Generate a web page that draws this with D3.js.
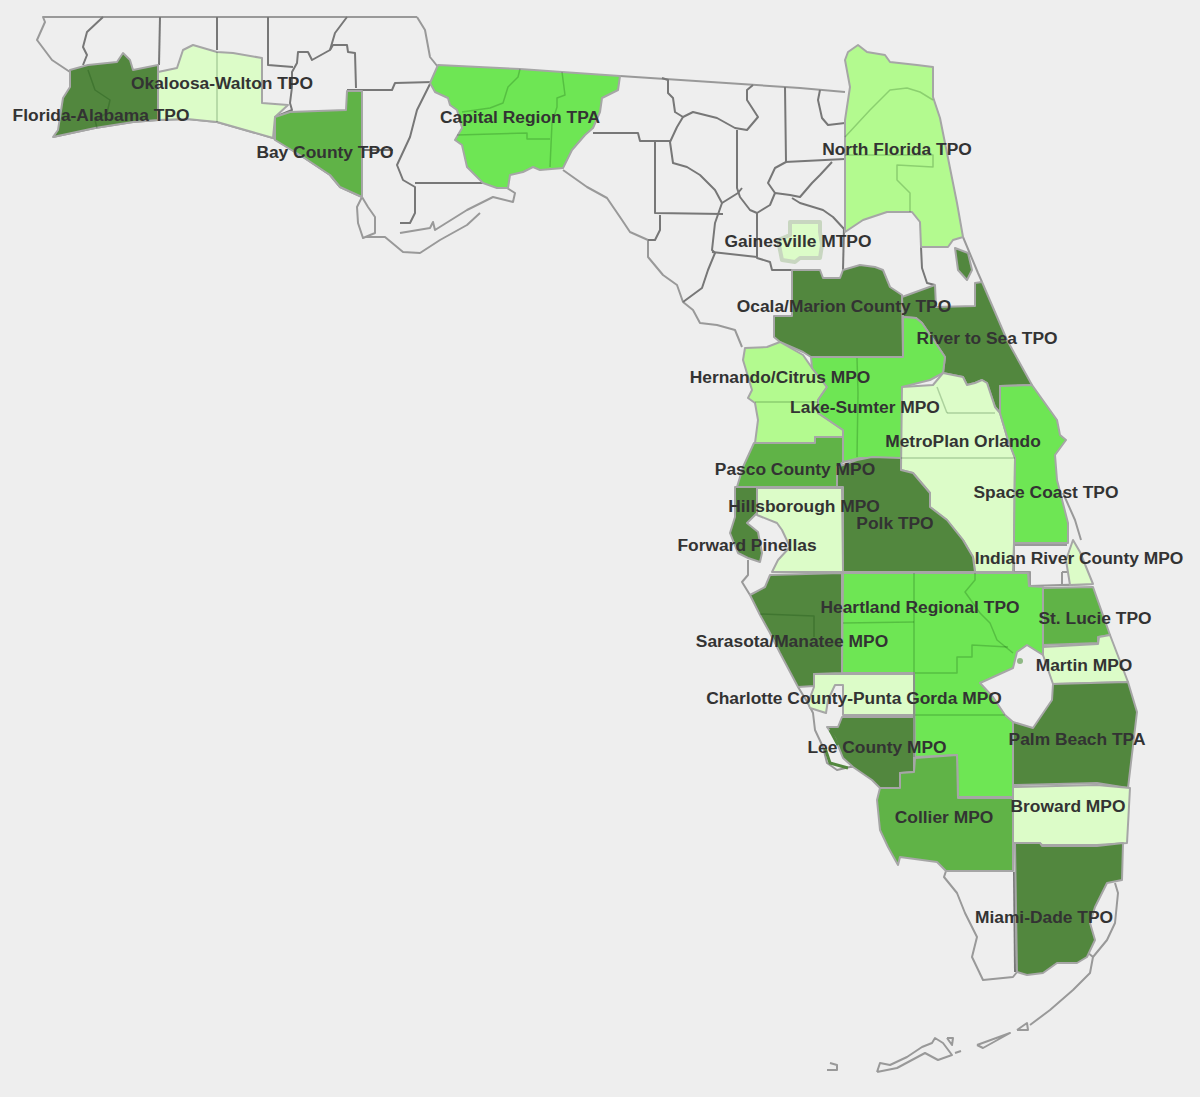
<!DOCTYPE html>
<html>
<head>
<meta charset="utf-8">
<script src="https://cdn.jsdelivr.net/npm/d3@7"></script>
<style>
  html, body { margin: 0; padding: 0; background: #eeeeee; }
  svg { display: block; }
</style>
</head>
<body>
<div id="map"></div>
<script>
// Planning organisations, one outline each, in map units
const regionNames = [
  'Florida-Alabama TPO', 'Okaloosa-Walton TPO', 'Bay County TPO', 'Capital Region TPA',
  'North Florida TPO', 'Gainesville MTPO', 'Ocala/Marion County TPO', 'River to Sea TPO',
  'St. Augustine', 'Hernando/Citrus MPO', 'Lake-Sumter MPO', 'MetroPlan Orlando',
  'Space Coast TPO', 'Indian River County MPO', 'Polk TPO', 'Pasco County MPO',
  'Hillsborough MPO', 'Forward Pinellas', 'Sarasota/Manatee MPO', 'Heartland Regional TPO',
  'St. Lucie TPO', 'Martin MPO', 'Palm Beach TPA', 'Charlotte County-Punta Gorda MPO',
  'Lee County MPO', 'Collier MPO', 'Broward MPO', 'Miami-Dade TPO'
];
// 0 palest .. 4 darkest
const regionTiers = [4, 0, 3, 2, 1, 0, 4, 4, 4, 1, 2, 0, 2, 0, 4, 3, 0, 4, 4, 2, 3, 0, 4, 0, 4, 3, 0, 4];
const tierColors = ['#dcfcc8', '#b3fa8f', '#6ee654', '#60b347', '#52873e'];

const regionOutlines = [
  [[70,70],[88,65],[117,62],[123,53],[130,60],[133,70],[158,65],[158,120],[133,122],[95,128],[53,137],[58,130],[63,98],[70,87]],
  [[158,72],[177,68],[183,50],[193,45],[217,52],[233,53],[262,58],[262,103],[288,105],[275,117],[273,138],[217,122],[187,119],[158,120]],
  [[275,117],[290,112],[346,110],[347,91],[362,91],[362,197],[340,187],[330,175],[303,157],[275,140]],
  [[438,65],[520,69],[562,72],[620,76],[618,90],[602,98],[600,112],[593,128],[585,135],[572,150],[563,168],[540,170],[533,167],[523,172],[510,175],[508,188],[497,188],[483,183],[467,167],[462,145],[455,140],[462,128],[457,110],[450,105],[448,98],[435,92],[430,83]],
  [[845,60],[848,52],[858,45],[867,52],[885,55],[890,62],[917,65],[933,67],[933,97],[940,118],[947,153],[957,203],[963,237],[953,240],[948,247],[921,247],[920,222],[912,212],[887,212],[863,220],[845,232],[845,120],[850,87]],
  [[790,222],[820,222],[820,232],[822,245],[820,258],[800,258],[795,262],[782,260],[778,240],[790,235]],
  [[792,270],[820,270],[823,278],[840,278],[843,270],[860,265],[875,267],[883,270],[890,287],[902,295],[903,357],[811,357],[803,352],[780,342],[774,337],[774,316],[792,316]],
  [[902,297],[935,285],[936,307],[975,306],[975,283],[982,282],[1007,340],[1032,385],[1000,386],[1000,413],[995,407],[987,383],[982,380],[975,383],[967,385],[963,377],[943,373],[945,357],[937,345],[922,323],[916,318],[903,317]],
  [[955,248],[968,253],[972,270],[967,280],[958,270]],
  [[745,348],[767,347],[780,342],[803,355],[812,368],[827,387],[818,400],[818,413],[843,430],[843,437],[815,437],[815,443],[755,443],[758,420],[755,403],[748,398],[752,390],[743,360]],
  [[903,317],[916,318],[922,323],[937,345],[945,357],[943,373],[930,380],[902,387],[902,458],[860,458],[843,462],[843,430],[818,413],[818,400],[827,387],[812,368],[811,357],[903,357]],
  [[902,387],[933,385],[943,373],[963,377],[967,385],[975,383],[982,380],[987,383],[995,407],[1000,413],[1008,440],[1015,458],[1014,543],[1013,572],[975,572],[973,557],[963,540],[947,520],[930,507],[930,493],[913,473],[901,470]],
  [[1000,386],[1032,385],[1057,420],[1060,435],[1066,440],[1055,455],[1057,480],[1068,523],[1068,543],[1014,543],[1015,458],[1008,440],[1000,413]],
  [[1073,540],[1080,552],[1093,584],[1070,585],[1066,560]],
  [[837,487],[837,467],[857,460],[872,457],[901,458],[901,470],[913,473],[930,493],[930,507],[947,520],[963,540],[973,557],[975,572],[843,572],[843,487]],
  [[815,437],[843,437],[843,462],[837,467],[837,487],[737,487],[743,467],[754,443],[815,443]],
  [[757,488],[842,488],[843,572],[772,572],[778,560],[790,547],[782,530],[777,523],[757,515]],
  [[735,487],[757,487],[757,513],[747,523],[758,532],[762,553],[760,562],[748,558],[738,553],[730,533],[735,517]],
  [[770,575],[842,573],[842,673],[814,674],[814,686],[798,687],[780,653],[770,633],[760,615],[750,595],[765,587]],
  [[843,573],[1028,573],[1029,586],[1043,587],[1043,655],[1027,645],[1017,652],[1013,668],[980,683],[993,697],[1005,715],[1013,722],[1013,797],[958,797],[957,755],[915,757],[914,673],[842,673]],
  [[1043,588],[1093,587],[1110,635],[1098,637],[1098,643],[1043,645]],
  [[1043,647],[1098,644],[1099,637],[1110,635],[1128,682],[1053,684],[1043,655]],
  [[1053,684],[1128,682],[1137,712],[1128,788],[1097,783],[1013,785],[1013,722],[1033,728],[1052,700]],
  [[814,674],[914,674],[914,715],[843,715],[843,685],[835,685],[828,700],[826,713],[810,708],[808,703],[814,687]],
  [[842,717],[914,717],[914,772],[900,773],[900,788],[880,788],[872,780],[853,767],[843,758],[835,738],[827,727],[838,727]],
  [[914,772],[915,758],[957,755],[958,798],[1013,798],[1013,871],[946,871],[937,862],[900,857],[898,865],[888,847],[880,830],[877,800],[880,788],[900,788],[900,773]],
  [[1013,787],[1097,785],[1130,788],[1127,843],[1097,845],[1042,845],[1040,843],[1013,843]],
  [[1015,843],[1040,843],[1042,846],[1097,846],[1123,843],[1122,880],[1107,883],[1095,907],[1090,923],[1095,940],[1087,957],[1077,963],[1057,963],[1043,973],[1027,975],[1017,972]]
];

// county lines inside the coloured regions
const innerLines = [
  [[88,70],[95,90],[110,100],[107,113],[95,120],[97,128]],
  [[217,52],[217,122]],
  [[520,69],[518,77],[508,87],[503,103],[490,108],[462,112]],
  [[562,72],[565,95],[557,98],[557,107],[552,123],[550,167]],
  [[457,135],[527,133],[527,139],[550,139]],
  [[845,137],[870,110],[890,90],[907,88],[920,92],[933,100]],
  [[845,155],[897,155],[933,155],[933,167],[897,165],[897,180],[910,193],[910,212]],
  [[755,402],[818,402]],
  [[857,358],[858,393],[857,457]],
  [[947,413],[995,413]],
  [[937,387],[947,413]],
  [[901,458],[1015,458]],
  [[760,614],[814,616],[814,637]],
  [[843,623],[914,622]],
  [[914,573],[914,757]],
  [[975,573],[975,580],[965,592],[980,613],[990,623],[997,640],[1013,653]],
  [[915,673],[957,673],[957,657],[972,657],[972,645],[1008,647]],
  [[915,715],[1005,715]]
];

// counties that belong to no region
const countyLines = [
  [[103,17],[87,32],[83,47],[87,55],[83,65]],
  [[160,17],[159,65]],
  [[217,17],[217,50]],
  [[268,17],[268,65],[293,67]],
  [[347,17],[335,33],[330,50],[312,60],[308,52],[298,52],[297,63],[292,72],[292,87],[290,103],[292,110],[275,117]],
  [[330,50],[333,45],[347,45],[348,52],[355,53],[356,88]],
  [[347,90],[392,90],[395,83],[433,82]],
  [[430,84],[417,110],[410,137],[397,165],[403,180],[415,187],[415,213],[410,223],[400,223]],
  [[415,183],[483,183]],
  [[362,150],[393,150]],
  [[662,78],[668,80],[668,93],[673,98],[675,112],[683,117],[693,112],[717,118],[735,128],[747,130],[758,117],[747,100],[747,90],[753,85]],
  [[683,117],[677,127],[670,142],[673,163],[687,167],[700,175],[715,190],[722,203],[738,193],[742,188]],
  [[593,133],[638,133],[640,141],[670,141]],
  [[655,141],[655,213],[723,214]],
  [[660,215],[660,230],[655,240],[648,240]],
  [[737,130],[737,188],[740,197],[750,210],[757,213],[770,205],[775,193],[790,195],[800,197],[812,183],[820,175],[832,162]],
  [[722,203],[715,223],[712,250],[715,253],[708,270],[702,288],[683,302]],
  [[712,252],[757,257]],
  [[757,213],[757,258],[770,262],[772,270],[792,270]],
  [[785,87],[786,162],[775,168],[768,183],[775,193]],
  [[785,162],[845,159]],
  [[820,90],[818,100],[822,118],[828,125],[845,123]],
  [[792,198],[800,203],[823,210],[833,217],[845,230]],
  [[844,227],[843,270]],
  [[921,247],[922,268],[927,283],[935,285]],
  [[1014,872],[1015,972]]
];

// coast and state line, drawn lighter than the county lines
const coastLines = [
  [[417,17],[43,17],[45,22],[37,40],[52,60],[70,72]],
  [[417,17],[425,30],[430,57],[438,67]],
  [[620,76],[800,88],[845,92]],
  [[53,137],[95,128],[133,122],[158,120],[187,119],[217,122],[273,138],[303,157],[330,175],[340,187],[362,197],[368,207],[375,217],[375,233],[363,238],[358,223],[357,207],[362,197]],
  [[365,237],[385,237],[403,252],[420,253],[440,240],[467,225],[480,213]],
  [[400,233],[430,228],[433,222],[435,230],[467,210],[493,197],[513,202],[515,193],[507,188]],
  [[563,170],[587,187],[607,198],[622,220],[630,232],[648,240],[648,257],[663,275],[677,285],[683,302],[693,310],[700,323],[717,325],[735,330],[742,347]],
  [[748,560],[748,575],[742,582],[750,595]],
  [[798,687],[808,703],[813,713],[815,730],[823,747],[827,763],[837,770],[850,767],[853,767]],
  [[946,871],[944,877],[957,893],[965,913],[977,937],[972,957],[983,980],[1013,977],[1017,972]],
  [[1087,952],[1093,957],[1090,973],[1073,990],[1050,1010],[1030,1025]],
  [[1115,883],[1118,893],[1115,923],[1107,940],[1093,957]],
  [[1017,1030],[1027,1023],[1028,1030],[1017,1030]],
  [[977,1045],[1010,1033],[983,1048],[977,1045]],
  [[877,1072],[880,1063],[890,1065],[907,1057],[922,1047],[932,1043],[935,1038],[943,1043],[952,1055],[938,1060],[925,1053],[897,1068],[877,1072]],
  [[947,1038],[953,1038],[952,1045],[947,1038]],
  [[955,1053],[961,1051]],
  [[827,1070],[837,1070],[837,1065],[830,1063]],
  [[1067,545],[1014,545],[1014,572],[1030,572],[1030,586],[1093,584]],
  [[1062,572],[1062,585],[1072,585],[1072,572],[1062,572]],
  [[963,237],[978,273],[982,282]],
  [[1063,493],[1075,520],[1081,540]]
];

// Pine Island and the Lee County shore, same colour as the county
const leeShore = [
  [[825,748],[830,763],[848,768]],
  [[830,730],[838,745]]
];

const labelNames = regionNames.filter(d => d !== 'St. Augustine');
// label centres, same order as labelNames
const labelX = [101, 222, 325, 520, 897, 798, 844, 987, 780, 865, 963, 1046, 1079, 895, 795, 804, 747, 792, 920, 1095, 1084, 1077, 854, 877, 944, 1068, 1044];
const labelY = [115, 83, 152, 117, 149, 241, 306, 338, 377, 407, 441, 492, 558, 523, 469, 506, 545, 641, 607, 618, 665, 739, 698, 747, 817, 806, 917];

const width = 1200;
const height = 1097;

const svg = d3.select('#map')
  .append('svg')
  .attr('width', width)
  .attr('height', height);

const projection = d3.geoIdentity();
const path = d3.geoPath(projection);

const drawLines = (lines, color, lineWidth) => {
  svg.append('g')
    .selectAll('path')
    .data(lines)
    .enter()
    .append('path')
    .attr('d', d => path({ type: 'LineString', coordinates: d }))
    .attr('fill', 'none')
    .attr('stroke', color)
    .attr('stroke-width', lineWidth)
    .attr('stroke-linejoin', 'round');
};

drawLines(coastLines, '#999999', 2);
drawLines(countyLines, '#777777', 2);

// Regiones
svg.append('g')
  .selectAll('path')
  .data(regionOutlines)
  .enter()
  .append('path')
  .attr('d', d => path({ type: 'Polygon', coordinates: [d.concat([d[0]])] }))
  .attr('fill', (d, i) => tierColors[regionTiers[i]])
  .attr('stroke', (d, i) => regionNames[i] === 'Gainesville MTPO' ? '#c8d6c0' : '#a6a6a6')
  .attr('stroke-width', (d, i) => regionNames[i] === 'Gainesville MTPO' ? 4 : 2)
  .attr('stroke-linejoin', 'round');

drawLines(innerLines, 'rgba(0,60,0,0.22)', 1.5);
drawLines(leeShore, tierColors[4], 3);

// Lake Okeechobee island
svg.append('circle')
  .attr('cx', projection([1020, 661])[0])
  .attr('cy', projection([1020, 661])[1])
  .attr('r', 3)
  .attr('fill', '#8fb985');

// Etiquetas
svg.append('g')
  .selectAll('text')
  .data(labelNames)
  .enter()
  .append('text')
  .text(d => d)
  .attr('x', (d, i) => labelX[i])
  .attr('y', (d, i) => labelY[i] + 6)
  .attr('text-anchor', 'middle')
  .attr('font-family', '"Liberation Sans", Arial, sans-serif')
  .attr('font-weight', 'bold')
  .attr('font-size', '17.4px')
  .attr('fill', '#333333');
</script>
</body>
</html>
